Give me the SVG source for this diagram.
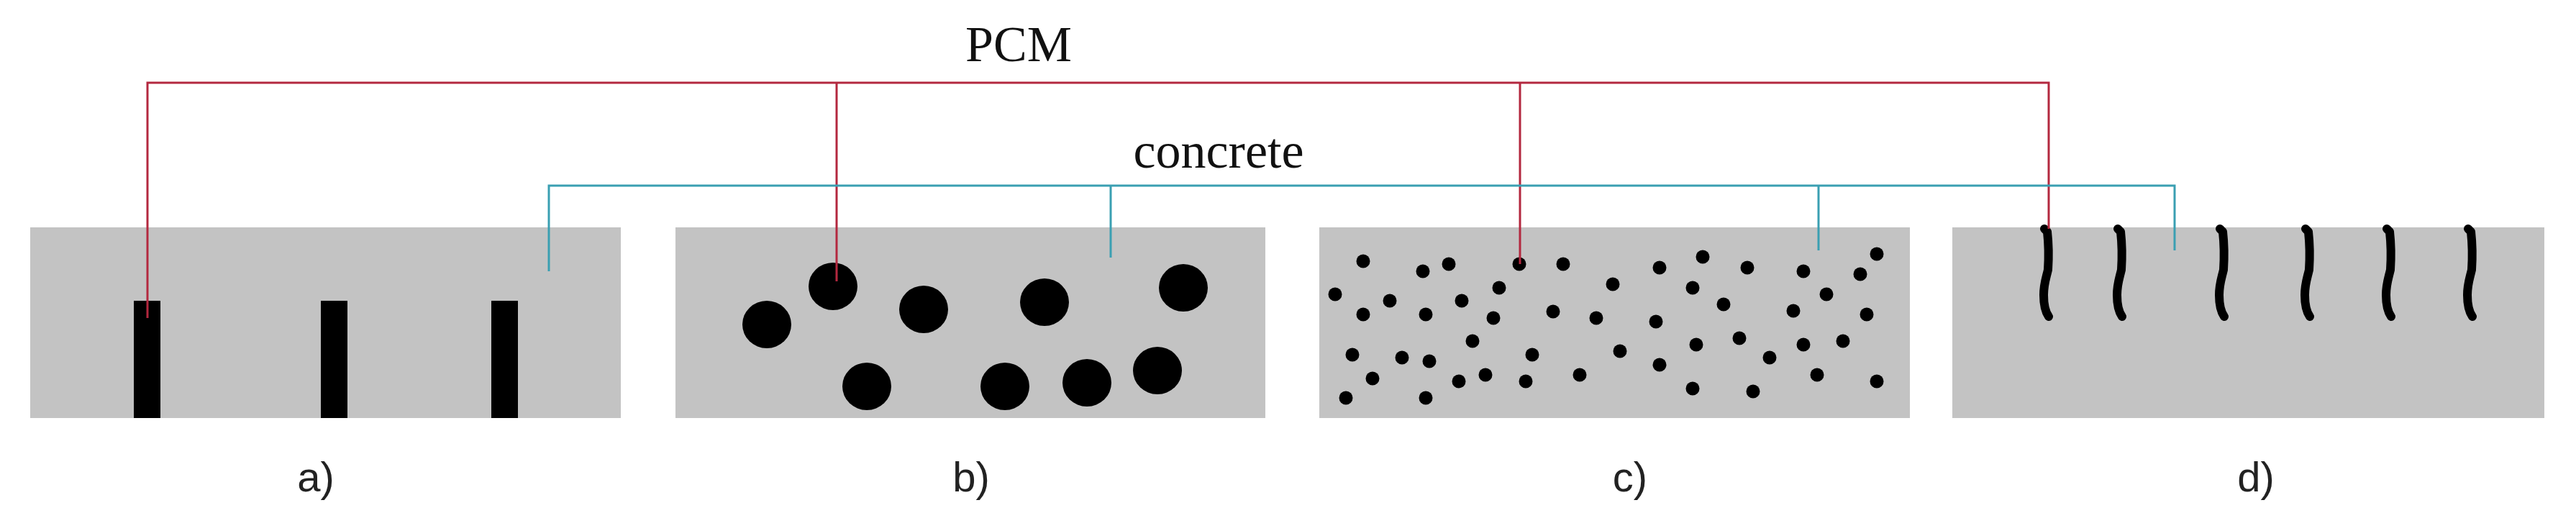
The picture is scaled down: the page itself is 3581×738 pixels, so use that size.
<svg xmlns="http://www.w3.org/2000/svg" width="3581" height="738" viewBox="0 0 3581 738">
<style>
.panel{fill:#c3c3c3}
.pcm{fill:#000}
.red{stroke:#b3283f;stroke-width:3;fill:none}
.cyan{stroke:#3a9fb2;stroke-width:3;fill:none}
.sq{stroke:#000;stroke-width:12;fill:none;stroke-linecap:round;stroke-linejoin:round}
.lbl{font-family:"Liberation Sans",Arial,sans-serif;font-size:58px;fill:#222;text-anchor:middle}
.ttl{font-family:"Liberation Serif","Times New Roman",serif;font-size:70px;fill:#111;text-anchor:middle}
</style>
<defs>
<path id="sq" class="sq" d="M-3,318 L1,322 C3,340 3,360 2,375 C-1,388 -4,395 -4,410 C-4,425 -2,433 3,440"/>
</defs>
<rect width="3581" height="738" fill="#fff"/>

<g id="panel-a">
<rect class="panel" x="42" y="316" width="821" height="265"/>
<rect class="pcm" x="186" y="418" width="37" height="163"/>
<rect class="pcm" x="446" y="418" width="37" height="163"/>
<rect class="pcm" x="683" y="418" width="37" height="163"/>
<text class="lbl" x="439" y="683">a)</text>
</g>

<g id="panel-b">
<rect class="panel" x="939" y="316" width="820" height="265"/>
<g class="pcm">
<ellipse cx="1066" cy="451" rx="34" ry="33"/>
<ellipse cx="1158" cy="398" rx="34" ry="33"/>
<ellipse cx="1284" cy="430" rx="34" ry="33"/>
<ellipse cx="1452" cy="420" rx="34" ry="33"/>
<ellipse cx="1645" cy="400" rx="34" ry="33"/>
<ellipse cx="1205" cy="537" rx="34" ry="33"/>
<ellipse cx="1397" cy="537" rx="34" ry="33"/>
<ellipse cx="1511" cy="532" rx="34" ry="33"/>
<ellipse cx="1609" cy="515" rx="34" ry="33"/>
</g>
<text class="lbl" x="1350" y="683">b)</text>
</g>

<g id="panel-c">
<rect class="panel" x="1834" y="316" width="821" height="265"/>
<g class="pcm">
<circle cx="1895" cy="363" r="9.5"/><circle cx="1978" cy="377" r="9.5"/><circle cx="2014" cy="367" r="9.5"/>
<circle cx="2112" cy="367" r="9.5"/><circle cx="2173" cy="367" r="9.5"/><circle cx="2307" cy="372" r="9.5"/>
<circle cx="2367" cy="357" r="9.5"/><circle cx="2429" cy="372" r="9.5"/><circle cx="2507" cy="377" r="9.5"/>
<circle cx="2609" cy="353" r="9.5"/><circle cx="2586" cy="381" r="9.5"/><circle cx="1856" cy="409" r="9.5"/>
<circle cx="1932" cy="418" r="9.5"/><circle cx="2032" cy="418" r="9.5"/><circle cx="2084" cy="400" r="9.5"/>
<circle cx="2242" cy="395" r="9.5"/><circle cx="2353" cy="400" r="9.5"/><circle cx="2539" cy="409" r="9.5"/>
<circle cx="2396" cy="423" r="9.5"/><circle cx="1895" cy="437" r="9.5"/><circle cx="1982" cy="437" r="9.5"/>
<circle cx="2076" cy="442" r="9.5"/><circle cx="2159" cy="433" r="9.5"/><circle cx="2219" cy="442" r="9.5"/>
<circle cx="2302" cy="447" r="9.5"/><circle cx="2493" cy="432" r="9.5"/><circle cx="2595" cy="437" r="9.5"/>
<circle cx="2047" cy="474" r="9.5"/><circle cx="1880" cy="493" r="9.5"/><circle cx="1949" cy="497" r="9.5"/>
<circle cx="1987" cy="502" r="9.5"/><circle cx="2130" cy="493" r="9.5"/><circle cx="2252" cy="488" r="9.5"/>
<circle cx="2358" cy="479" r="9.5"/><circle cx="2418" cy="470" r="9.5"/><circle cx="2507" cy="479" r="9.5"/>
<circle cx="2562" cy="474" r="9.5"/><circle cx="2460" cy="497" r="9.5"/><circle cx="2307" cy="507" r="9.5"/>
<circle cx="1908" cy="526" r="9.5"/><circle cx="2028" cy="530" r="9.5"/><circle cx="2065" cy="521" r="9.5"/>
<circle cx="2121" cy="530" r="9.5"/><circle cx="2196" cy="521" r="9.5"/><circle cx="2526" cy="521" r="9.5"/>
<circle cx="2609" cy="530" r="9.5"/><circle cx="1871" cy="553" r="9.5"/><circle cx="1982" cy="553" r="9.5"/>
<circle cx="2353" cy="540" r="9.5"/><circle cx="2437" cy="544" r="9.5"/>
</g>
<text class="lbl" x="2266" y="683">c)</text>
</g>

<g id="panel-d">
<rect class="panel" x="2714" y="316" width="823" height="265"/>
<use href="#sq" x="2845"/>
<use href="#sq" x="2947"/>
<use href="#sq" x="3089"/>
<use href="#sq" x="3208"/>
<use href="#sq" x="3321"/>
<use href="#sq" x="3434"/>
<text class="lbl" x="3136" y="683">d)</text>
</g>

<g id="connectors">
<path class="red" d="M205,442 V115 H2848 V318 M1163,115 V391 M2113,115 V367"/>
<path class="cyan" d="M763,377 V258 H3023 V348 M1544,258 V358 M2528,258 V348"/>
</g>

<g id="labels">
<text class="ttl" x="1416" y="85">PCM</text>
<text class="ttl" x="1694" y="233">concrete</text>
</g>
</svg>
